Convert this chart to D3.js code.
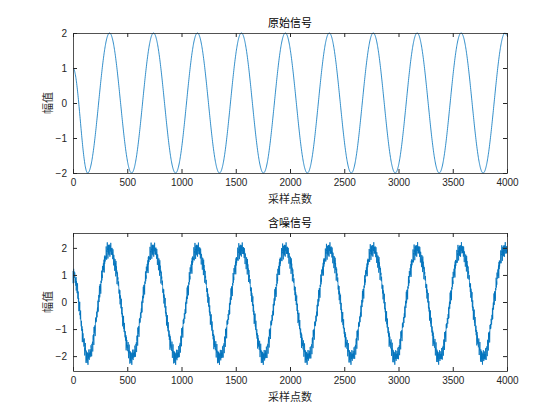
<!DOCTYPE html>
<html><head><meta charset="utf-8">
<script src="https://cdn.jsdelivr.net/npm/d3@7"></script>
<style>body{margin:0;background:#fff}</style></head>
<body><svg id="c" width="560" height="420"></svg>
<script>
// Key points (extrema of the clean signal)
const troughs = [135,540,945,1350,1755,2160,2565,2970,3375,3780];
const peaks = [337,742,1147,1552,1957,2362,2767,3172,3577,3982];
const startPoint = [0, 1];
const endPoint = [4000, 1.93];
const xTicks = [0,500,1000,1500,2000,2500,3000,3500,4000];
const yTicksTop = [-2,-1,0,1,2];
const yTicksBottom = [-2,-1,0,1,2];
const titles = ["原始信号","含噪信号"];
const xLabel = "采样点数", yLabel = "幅值";
const noise = [0.12,-0.31,0.05,0.27,-0.18,0.41,-0.07,-0.22,0.33,0.02,-0.45,0.19,0.08,-0.13,0.36,-0.29,0.11,-0.04,0.24,-0.38,
0.15,0.49,-0.21,-0.09,0.31,-0.16,0.03,-0.34,0.22,0.07,-0.26,0.44,-0.11,0.17,-0.42,0.28,-0.02,0.13,-0.19,0.37,
-0.33,0.06,0.21,-0.48,0.16,-0.06,0.39,-0.24,0.09,0.26,-0.14,-0.37,0.32,0.01,-0.28,0.18,-0.08,0.46,-0.2,0.04,
-0.41,0.23,0.14,-0.17,0.35,-0.32,0.1,-0.01,0.29,-0.44,0.2,0.06,-0.23,0.38,-0.12,-0.3,0.25,0.0,-0.36,0.43,
-0.1,0.17,-0.27,0.08,0.34,-0.15,-0.46,0.21,0.12,-0.05,0.3,-0.39,0.07,0.27,-0.2,0.15,-0.35,0.4,-0.03,0.19,-0.25];

const keys = [startPoint, ...troughs.map(x=>[x,-2]), ...peaks.map(x=>[x,2]), endPoint].sort((a,b)=>a[0]-b[0]);
function base(x){
  let i = d3.bisector(d=>d[0]).right(keys, x) - 1;
  i = Math.max(0, Math.min(keys.length-2, i));
  const [x0,v0]=keys[i],[x1,v1]=keys[i+1];
  const t=(x-x0)/(x1-x0);
  return v0+(v1-v0)*(1-Math.cos(Math.PI*t))/2;
}
const idx = d3.range(0,4001,2);
const clean = idx.map(x=>[x,base(x)]);
const noisy = idx.map((x,i)=>[x,base(x)+0.55*noise[i%noise.length]+0.3*noise[(i*7+3)%noise.length]]);

const svg=d3.select("#c");
const col="#0072BD", axc="#262626";
const tf="'Liberation Sans',Arial,sans-serif", cf="'Noto Sans CJK SC',sans-serif";
function panel(top,bottom,data,dom,ticks,title){
  const x=d3.scaleLinear([0,4000],[73,507]);
  const y=d3.scaleLinear(dom,[bottom,top]);
  const g=svg.append("g");
  g.append("path").datum(data).attr("fill","none").attr("stroke",col).attr("stroke-width",0.8)
   .attr("d",d3.line().x(d=>x(d[0])).y(d=>y(d[1])));
  const ax=(a)=>{a.selectAll("text").attr("font-family",tf).attr("font-size",10).attr("fill",axc);a.selectAll("line,path").attr("stroke",axc);};
  g.append("g").attr("transform",`translate(0,${bottom})`).call(d3.axisBottom(x).tickValues(xTicks).tickFormat(d3.format("d")).tickSizeInner(-4).tickSizeOuter(0).tickPadding(6)).call(ax);
  g.append("g").attr("transform",`translate(0,${top})`).call(d3.axisTop(x).tickValues(xTicks).tickSizeInner(-4).tickSizeOuter(0).tickFormat("")).call(ax);
  g.append("g").attr("transform",`translate(73,0)`).call(d3.axisLeft(y).tickValues(ticks).tickFormat(d3.format("d")).tickSizeInner(-4).tickSizeOuter(0).tickPadding(6)).call(ax);
  g.append("g").attr("transform",`translate(507,0)`).call(d3.axisRight(y).tickValues(ticks).tickSizeInner(-4).tickSizeOuter(0).tickFormat("")).call(ax);
  g.selectAll(".domain").attr("stroke-width",0.8);
  g.append("text").attr("x",290).attr("y",top-6).attr("text-anchor","middle").attr("font-family",cf).attr("font-size",11).attr("fill","#000").text(title);
  g.append("text").attr("x",290).attr("y",bottom+30).attr("text-anchor","middle").attr("font-family",cf).attr("font-size",11).attr("fill",axc).text(xLabel);
  g.append("text").attr("transform",`translate(52,${(top+bottom)/2}) rotate(-90)`).attr("text-anchor","middle").attr("font-family",cf).attr("font-size",11).attr("fill",axc).text(yLabel);
}
panel(33,173,clean,[-2,2],yTicksTop,titles[0]);
panel(233,371,noisy,[-2.55,2.55],yTicksBottom,titles[1]);
</script></body></html>
